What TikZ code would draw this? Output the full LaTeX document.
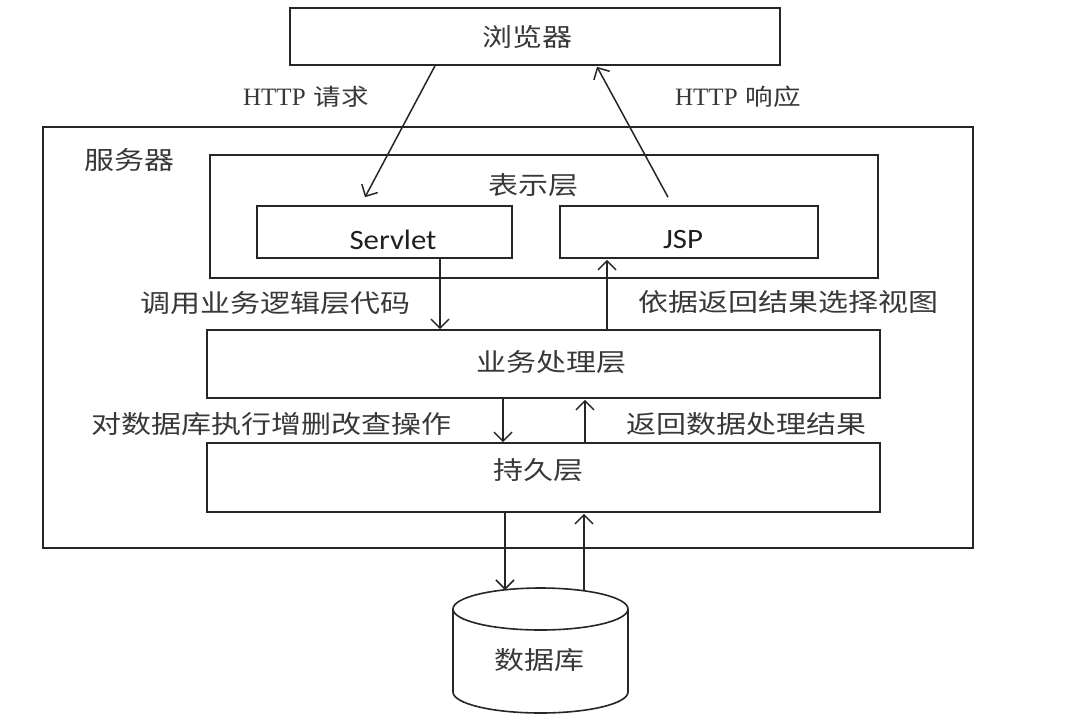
\documentclass[tikz,border=0pt]{standalone}
\usepackage{fontspec}
\setmainfont{Liberation Serif}
\newfontfamily\cjk{Noto Sans CJK SC}[FakeStretch=1.2]
\newfontfamily\latserif{Liberation Serif}
\newfontfamily\carl{Carlito}[FakeStretch=1.1]
\usetikzlibrary{arrows.meta}
\tikzset{
  box/.style={draw=black!85, line width=1.6pt, inner sep=0pt},
  zh/.style={font=\cjk\fontsize{25}{25}\selectfont, text=black!78, inner sep=0pt},
  zhsmall/.style={font=\cjk\fontsize{23}{23}\selectfont, text=black!78, inner sep=0pt},
  sansname/.style={font=\carl\fontsize{28}{28}\selectfont, text=black!88, inner sep=0pt},
  arr/.style={draw=black!85, line width=1.5pt, -{Straight Barb[length=9pt,width=18pt]}}
}
\newcommand{\httplabel}[1]{{\latserif\fontsize{25}{25}\selectfont HTTP}\hspace{8pt}#1}
\begin{document}
\begin{tikzpicture}[x=1pt,y=-1pt]
  \fill[white] (0,0) rectangle (1075,720);
  \useasboundingbox (0,0) rectangle (1075,720);

  % boxes
  \node[box, minimum width=490pt, minimum height=57pt] (browser) at (535,36.5) {};
  \node[box, minimum width=930pt, minimum height=421pt] (server) at (508,337.5) {};
  \node[box, minimum width=668pt, minimum height=123pt] (pres) at (544,216.5) {};
  \node[box, minimum width=255pt, minimum height=52pt] (servlet) at (384.5,232) {};
  \node[box, minimum width=258pt, minimum height=52pt] (jsp) at (689,232) {};
  \node[box, minimum width=673pt, minimum height=68pt] (biz) at (543.5,364) {};
  \node[box, minimum width=673pt, minimum height=69pt] (persist) at (543.5,477.5) {};

  % database cylinder
  \draw[draw=black!85, line width=1.6pt] (453,609) -- (453,692)
    arc[start angle=180, end angle=0, x radius=87.5, y radius=21] -- (628,609);
  \draw[draw=black!85, line width=1.6pt] (540.5,609) ellipse [x radius=87.5, y radius=21];
  \coordinate (dbin) at (505,590);
  \coordinate (dbout) at (584,591);

  % labels
  \node[zh] (tbrowser) at (527,37) {浏览器};
  \node[zhsmall] (treq) at (306,97) {\httplabel{请求}};
  \node[zhsmall] (tresp) at (738,97) {\httplabel{响应}};
  \node[zh] (tserver) at (129,160) {服务器};
  \node[zh] (tpres) at (533,185) {表示层};
  \node[sansname] (tservlet) at (393,240) {Servlet};
  \node[sansname] (tjsp) at (683,240) {JSP};
  \node[zh] (tcall) at (275,303) {调用业务逻辑层代码};
  \node[zh] (tview) at (788,302) {依据返回结果选择视图};
  \node[zh] (tbiz) at (551,362) {业务处理层};
  \node[zh] (tcrud) at (271,424) {对数据库执行增删改查操作};
  \node[zh] (tret) at (746,424) {返回数据处理结果};
  \node[zh] (tpersist) at (538,470) {持久层};
  \node[zh] (tdb) at (539,660) {数据库};

  % connectors
  \draw[arr] ([xshift=-100pt]browser.south) -- ([xshift=-19.5pt,yshift=8pt]servlet.north);
  \draw[arr] ([xshift=-21pt,yshift=8pt]jsp.north) -- ([xshift=62pt,yshift=-1pt]browser.south);
  \draw[arr] ([xshift=55.5pt]servlet.south) -- ([xshift=55.5pt]servlet.south |- biz.north);
  \draw[arr] ([xshift=-82pt]jsp.south |- biz.north) -- ([xshift=-82pt,yshift=-1pt]jsp.south);
  \draw[arr] ([xshift=-40.5pt]biz.south) -- ([xshift=-40.5pt]persist.north);
  \draw[arr] ([xshift=41.5pt]persist.north) -- ([xshift=41.5pt,yshift=-1pt]biz.south);
  \draw[arr] (persist.south -| dbin) -- (dbin);
  \draw[arr] (dbout) -- ([yshift=-1pt]persist.south -| dbout);
\end{tikzpicture}
\end{document}
